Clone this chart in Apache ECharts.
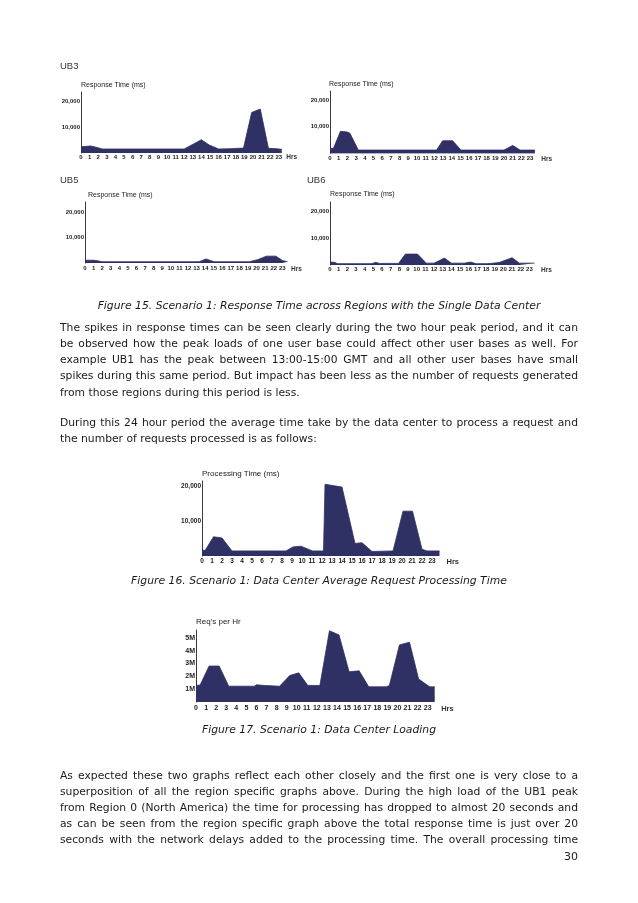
<!DOCTYPE html>
<html>
<head>
<meta charset="utf-8">
<script src="https://cdn.jsdelivr.net/npm/echarts/dist/echarts.min.js"></script>
<style>
  html, body { margin: 0; padding: 0; background: #ffffff; }
  #page { position: relative; width: 638px; height: 903px; overflow: hidden; background: #fff; }
  #chart { position: absolute; left: 0; top: 0; width: 638px; height: 903px; }
  .ln { position: absolute; left: 60px; width: 518px; height: 16px; line-height: 16px;
        font-family: "DejaVu Sans", Verdana, sans-serif; font-size: 10.75px; color: #1a1a1a;
        white-space: nowrap; text-align: justify; text-align-last: justify; }
  .ln.last { text-align: left; text-align-last: left; }
  .cap { position: absolute; left: 0; width: 638px; height: 16px; line-height: 16px; text-align: center;
         font-family: "DejaVu Sans", Verdana, sans-serif; font-size: 10.8px; font-style: italic; color: #1a1a1a; white-space: nowrap; }
  .pg { position: absolute; left: 478px; width: 100px; text-align: right; height: 16px; line-height: 16px;
        font-family: "DejaVu Sans", Verdana, sans-serif; font-size: 11px; color: #1a1a1a; }
</style>
</head>
<body>
<div id="page">
  <div id="chart"></div>

  <div class="cap" style="top:298px">Figure 15. Scenario 1: Response Time across Regions with the Single Data Center</div>

  <div class="ln" style="top:320px">The spikes in response times can be seen clearly during the two hour peak period, and it can</div>
  <div class="ln" style="top:336px">be observed how the peak loads of one user base could affect other user bases as well. For</div>
  <div class="ln" style="top:352px">example UB1 has the peak between 13:00-15:00 GMT and all other user bases have small</div>
  <div class="ln" style="top:368px">spikes during this same period. But impact has been less as the number of requests generated</div>
  <div class="ln last" style="top:385px">from those regions during this period is less.</div>

  <div class="ln" style="top:415px">During this 24 hour period the average time take by the data center to process a request and</div>
  <div class="ln last" style="top:431px">the number of requests processed is as follows:</div>

  <div class="cap" style="top:573px">Figure 16. Scenario 1: Data Center Average Request Processing Time</div>
  <div class="cap" style="top:722px">Figure 17. Scenario 1: Data Center Loading</div>

  <div class="ln" style="top:768px">As expected these two graphs reflect each other closely and the first one is very close to a</div>
  <div class="ln" style="top:784px">superposition of all the region specific graphs above. During the high load of the UB1 peak</div>
  <div class="ln" style="top:800px">from Region 0 (North America) the time for processing has dropped to almost 20 seconds and</div>
  <div class="ln" style="top:816px">as can be seen from the region specific graph above the total response time is just over 20</div>
  <div class="ln" style="top:832px">seconds with the network delays added to the processing time. The overall processing time</div>

  <div class="pg" style="top:849px">30</div>
</div>
<script>
// ---------------- DATA ----------------
const hourLabels = ['0','1','2','3','4','5','6','7','8','9','10','11','12','13','14','15','16','17','18','19','20','21','22','23'];
const responseTicks = [10000, 20000];
const responseTickLabels = ['10,000', '20,000'];
const loadTicks = [1000000, 2000000, 3000000, 4000000, 5000000];
const loadTickLabels = ['1M', '2M', '3M', '4M', '5M'];

// UB3 response time (ms)
const ub3Hours  = [0, 1.15, 1.95, 2.5, 12.0, 14.0, 14.9, 16.0, 17.45, 18.9, 19.85, 20.85, 21.8, 22.7, 23.35];
const ub3Values = [2400, 2700, 2050, 1540, 1540, 5100, 3100, 1540, 1670, 1900, 15600, 16900, 1800, 1670, 1400];

// UB4 response time (ms)
const ub4Hours  = [0, 0.4, 1.2, 2.0, 2.3, 3.25, 12.25, 12.95, 14.1, 15.05, 20.0, 21.0, 21.85, 23.55];
const ub4Values = [1900, 1900, 8250, 8000, 7500, 1250, 1250, 4750, 4750, 1250, 1250, 3000, 1250, 1250];

// UB5 response time (ms)
const ub5Hours  = [0, 1.05, 1.6, 2.0, 13.3, 14.1, 15.05, 19.15, 20.1, 21.15, 22.25, 23.0, 23.6];
const ub5Values = [1100, 1100, 800, 500, 500, 1600, 500, 500, 1300, 2700, 2700, 1000, 500];

// UB6 response time (ms)
const ub6Hours  = [0, 0.5, 0.9, 4.85, 5.25, 5.7, 7.9, 8.7, 10.1, 11.1, 12.0, 13.2, 14.0, 15.5, 16.2, 16.85, 18.2, 19.5, 21.0, 21.85, 23.6];
const ub6Values = [1100, 1000, 500, 500, 1000, 600, 600, 4100, 4100, 700, 700, 2600, 700, 700, 1100, 500, 500, 900, 2750, 700, 700];

// Data center processing time (ms)
const procHours  = [0, 0.33, 1.15, 2.0, 3.0, 8.4, 9.1, 9.9, 10.4, 11.05, 12.15, 12.3, 14.0, 15.3, 16.0, 17.0, 19.1, 20.1, 21.05, 22.0, 22.5, 23.75];
const procValues = [1650, 1650, 5500, 5150, 1450, 1450, 2600, 2800, 2200, 1450, 1450, 20500, 19700, 3600, 3800, 1300, 1450, 12800, 12800, 1950, 1450, 1450];

// Data center loading (requests per hour)
const loadHours  = [0, 0.4, 1.3, 2.3, 3.25, 5.8, 6.0, 6.8, 8.3, 9.3, 10.2, 11.1, 12.3, 13.25, 14.2, 15.2, 16.2, 17.15, 18.9, 19.2, 20.2, 21.2, 22.1, 23.2, 23.7];
const loadValues = [1310000, 1310000, 2800000, 2800000, 1230000, 1230000, 1340000, 1290000, 1230000, 2060000, 2270000, 1290000, 1290000, 5550000, 5230000, 2350000, 2430000, 1180000, 1180000, 1290000, 4450000, 4660000, 1800000, 1180000, 1180000];

// ---------------- LAYOUT ----------------
const NAVY = '#2f3064';
const panels = [
  { hours: ub3Hours, values: ub3Values, left: 81,  top: 92,  width: 201.2, height: 61, xMax: 23.4,  yMax: 23460, ticks: responseTicks, tickLabels: responseTickLabels, yInt: 10000, fs: 6,   nameGap: 4,   lblMargin: 1,   title: 'Response Time (ms)', tx: 81,  ty: 86,  tfs: 7, nameFs: 6.5, namePad: 1 },
  { hours: ub4Hours, values: ub4Values, left: 330, top: 91,  width: 205.3, height: 62.4, xMax: 23.6, yMax: 23370, ticks: responseTicks, tickLabels: responseTickLabels, yInt: 10000, fs: 6,   nameGap: 6,   lblMargin: 1.5, title: 'Response Time (ms)', tx: 329, ty: 85,  tfs: 7, nameFs: 6.5, namePad: 2 },
  { hours: ub5Hours, values: ub5Values, left: 85,  top: 202, width: 202.5, height: 61, xMax: 23.6,  yMax: 24000, ticks: responseTicks, tickLabels: responseTickLabels, yInt: 10000, fs: 6,   nameGap: 3.5, lblMargin: 2.5, title: 'Response Time (ms)', tx: 88,  ty: 196, tfs: 7, nameFs: 6.5, namePad: 3 },
  { hours: ub6Hours, values: ub6Values, left: 330, top: 202, width: 204.6, height: 63, xMax: 23.6,  yMax: 23680, ticks: responseTicks, tickLabels: responseTickLabels, yInt: 10000, fs: 6,   nameGap: 6.5, lblMargin: 1.5, title: 'Response Time (ms)', tx: 330, ty: 195, tfs: 7, nameFs: 6.5, namePad: 2 },
  { hours: procHours, values: procValues, left: 202, top: 481, width: 237.5, height: 75, xMax: 23.75, yMax: 21430, ticks: responseTicks, tickLabels: responseTickLabels, yInt: 10000, fs: 6.5, nameGap: 7,   lblMargin: 1.5, title: 'Processing Time (ms)', tx: 202, ty: 475, tfs: 8, nameFs: 7.5, namePad: 2 },
  { hours: loadHours, values: loadValues, left: 196, top: 630, width: 238.7, height: 72, xMax: 23.7, yMax: 5610000, ticks: loadTicks, tickLabels: loadTickLabels, yInt: 1000000, fs: 7, nameGap: 6.5, lblMargin: 2.5, title: "Req's per Hr", tx: 196, ty: 622.5, tfs: 8, nameFs: 7.5, namePad: 3 }
];

const labelFont = '"Liberation Sans", Arial, sans-serif';

const option = {
  animation: false,
  backgroundColor: 'transparent',
  grid: panels.map(p => ({ left: p.left, top: p.top, width: p.width, height: p.height, containLabel: false, outerBoundsMode: 'none' })),
  xAxis: panels.map((p, i) => ({
    type: 'value', gridIndex: i, min: 0, max: p.xMax, interval: 1,
    axisLine: { show: false }, axisTick: { show: false }, splitLine: { show: false },
    axisLabel: {
      margin: p.lblMargin, fontSize: p.fs, fontWeight: 'bold', color: '#1c1c1c', fontFamily: labelFont,
      hideOverlap: false, showMinLabel: true, showMaxLabel: true,
      formatter: v => (Math.abs(v - Math.round(v)) < 1e-6 && Math.round(v) <= 23) ? hourLabels[Math.round(v)] : ''
    },
    name: 'Hrs', nameLocation: 'end', nameGap: p.nameGap,
    nameTextStyle: { fontSize: p.nameFs, fontWeight: 'bold', color: '#333', fontFamily: labelFont, verticalAlign: 'top', align: 'left', padding: [p.namePad, 0, 0, 0] }
  })),
  yAxis: panels.map((p, i) => ({
    type: 'value', gridIndex: i, min: 0, max: p.yMax, interval: p.yInt,
    axisLine: { show: true, lineStyle: { color: '#3a3a3a', width: 1 } },
    axisTick: { show: false }, splitLine: { show: false },
    axisLabel: {
      margin: 1, fontSize: p.fs, fontWeight: 'bold', color: '#1c1c1c', fontFamily: labelFont, hideOverlap: false,
      formatter: v => { const k = p.ticks.indexOf(v); return k >= 0 ? p.tickLabels[k] : ''; }
    }
  })),
  series: panels.map((p, i) => ({
    type: 'line', xAxisIndex: i, yAxisIndex: i, symbol: 'none', smooth: false,
    lineStyle: { color: NAVY, width: 0.8 },
    areaStyle: { color: NAVY, opacity: 1 },
    data: p.hours.map((h, k) => [h, p.values[k]])
  })),
  graphic: [
    ...panels.map(p => ({
      type: 'text', left: p.tx, top: p.ty - p.tfs * 0.6,
      style: { text: p.title, fontSize: p.tfs, fontFamily: labelFont, fill: '#222' }
    })),
    { type: 'text', left: 60, top: 61, style: { text: 'UB3', fontSize: 9.5, fontFamily: labelFont, fill: '#333' } },
    { type: 'text', left: 60, top: 175, style: { text: 'UB5', fontSize: 9.5, fontFamily: labelFont, fill: '#333' } },
    { type: 'text', left: 307, top: 175, style: { text: 'UB6', fontSize: 9.5, fontFamily: labelFont, fill: '#333' } }
  ]
};

const chart = echarts.init(document.getElementById('chart'), null, { renderer: 'canvas', width: 638, height: 903 });
chart.setOption(option);
</script>
</body>
</html>
